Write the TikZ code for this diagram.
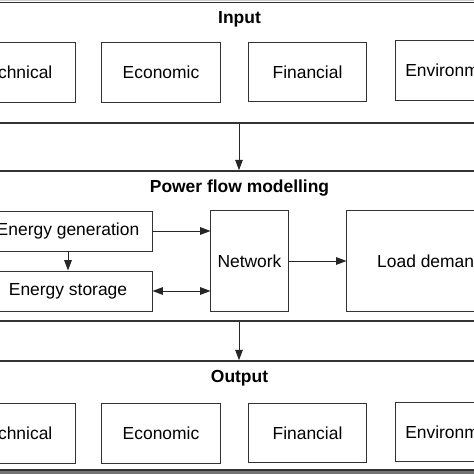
\documentclass[tikz,border=0pt]{standalone}
\usepackage{fontspec}
\setmainfont{Liberation Sans}
\usetikzlibrary{arrows.meta}

\tikzset{
	panel/.style={draw=black!80, line width=1.1pt, minimum width=13.5cm, inner sep=0pt},
	box/.style={draw=black!80, line width=0.7pt, minimum width=2.95cm, minimum height=1.475cm, inner sep=0pt},
	title/.style={font=\bfseries\fontsize{12.4}{14}\selectfont},
	flow/.style={-{Triangle[length=0.26cm,width=0.19cm]}, line width=0.7pt, draw=black!85},
	dflow/.style={{Triangle[length=0.26cm,width=0.19cm]}-{Triangle[length=0.26cm,width=0.19cm]}, line width=0.7pt, draw=black!85}
}

\begin{document}
\begin{tikzpicture}[x=0.025cm,y=0.025cm,font=\fontsize{12.4}{14}\selectfont]
	\useasboundingbox (0,0) rectangle (474,474);
	\clip (0,0) rectangle (474,474);
	\fill[white] (0,0) rectangle (474,474);
	% outer frame strips
	\fill[black!20] (0,472.5) rectangle (474,474);
	\fill[black!55] (0,0) rectangle (474,4);
	% panels
	\node[panel, minimum height=3.0125cm] (inpanel) at (239,411.25) {};
	\node[panel, minimum height=3.75cm] (pfpanel) at (239,228) {};
	\node[panel, minimum height=2.725cm] (outpanel) at (239,58.5) {};
	\node[title] (intitle) at (239.5,455) {Input};
	\node[title] (pftitle) at (239.5,286) {Power flow modelling};
	\node[title] (outtitle) at (239.5,96) {Output};
	% input
	\node[box] (intech) at (16,401.5) {Technical};
	\node[box] (inecon) at (161,401.5) {Economic};
	\node[box] (infin) at (307.5,402) {Financial};
	\node[box, minimum width=3.25cm] (inenv) at (461,403.5) {Environmental};
	% power flow modelling
	\node[box, minimum width=4.2cm, minimum height=1cm] (gen) at (68,243) {Energy generation};
	\node[box, minimum width=4.2cm, minimum height=1cm] (stor) at (68,183) {Energy storage};
	\node[box, minimum width=1.925cm, minimum height=2.5cm] (net) at (249.5,213) {Network};
	\node[box, minimum width=4.175cm, minimum height=2.5cm] (load) at (430.5,213) {Load demand};
	% output
	\node[box] (outtech) at (16,40.5) {Technical};
	\node[box] (outecon) at (161,40.5) {Economic};
	\node[box] (outfin) at (307.5,41) {Financial};
	\node[box, minimum width=3.25cm] (outenv) at (461,42) {Environmental};
	% arrows
	\draw[flow] (inpanel.south) -- (pfpanel.north);
	\draw[flow] (pfpanel.south) -- (outpanel.north);
	\draw[flow] (gen.south) -- (stor.north);
	\draw[flow] (gen.east) -- (gen.east -| net.west);
	\draw[dflow] (stor.east) -- (stor.east -| net.west);
	\draw[flow] (net.east) -- (load.west);
\end{tikzpicture}
\end{document}
